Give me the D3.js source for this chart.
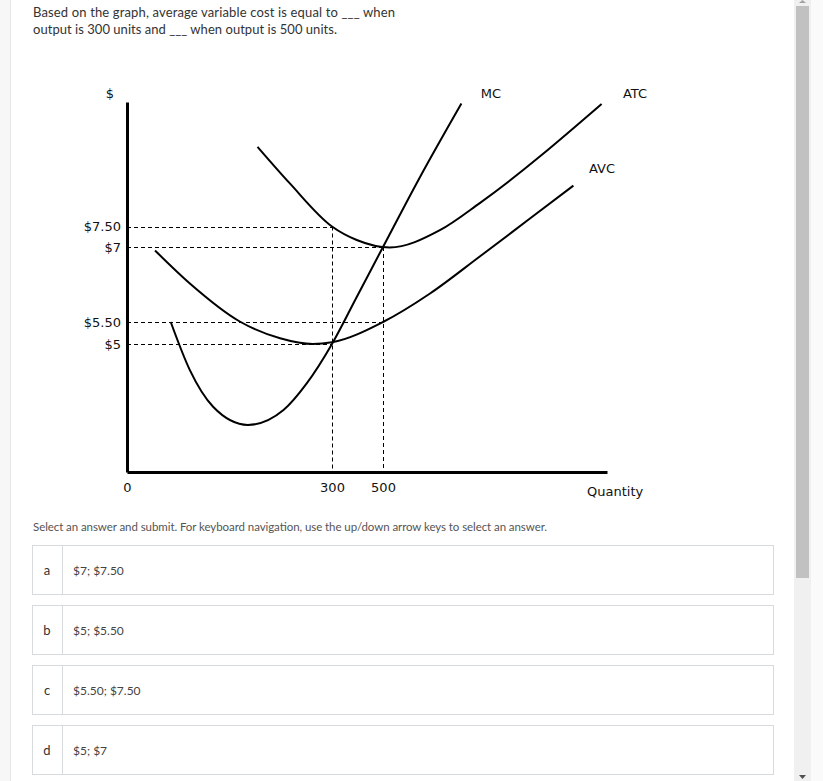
<!DOCTYPE html>
<html>
<head>
<meta charset="utf-8">
<script src="https://cdn.jsdelivr.net/npm/d3@7"></script>
<style>
  html, body { margin: 0; padding: 0; background: #fff; overflow: hidden; }
  svg { display: block; }
</style>
</head>
<body>
<div id="page"></div>
<script>
// ---------- data ----------
var questionLines = [
  "Based on the graph, average variable cost is equal to ___ when",
  "output is 300 units and ___ when output is 500 units."
];
var instruction = "Select an answer and submit. For keyboard navigation, use the up/down arrow keys to select an answer.";
var answerKeys = ["a", "b", "c", "d"];
var answerTexts = ["$7; $7.50", "$5; $5.50", "$5.50; $7.50", "$5; $7"];

// axis ticks (the original graph is schematic, so the scales are piecewise)
var qTicks = [0, 300, 500];
var qBreaks = [0, 300, 500, 1000];
var priceTicks = [5, 5.5, 7, 7.5];
var priceBreaks = [0, 5, 5.5, 7, 7.5, 10];
var priceLabels = ["$5", "$5.50", "$7", "$7.50"];

// curves: [quantity, $]
var mcData = [[64, 5.5], [92, 3.98], [126, 2.55], [177, 1.84], [229, 2.42], [263, 3.46],
  [300, 5.0], [397, 6.0], [500, 7.0], [583, 8.5], [675, 9.97]];
var avcData = [[41, 6.93], [92, 6.27], [165, 5.51], [224, 5.13], [272, 5.0], [300, 5.04],
  [500, 5.5], [605, 6.07], [716, 6.81], [828, 7.66], [925, 8.32]];
var atcData = [[191, 9.1], [238, 8.37], [300, 7.5], [397, 7.17], [515, 6.99], [627, 7.41],
  [716, 7.97], [988, 9.96]];

// dashed guides: [quantity, $]
var guides = [[300, 7.5], [500, 7], [500, 5.5], [300, 5]];
var dropLines = [[300, 7.5], [500, 7]];

// ---------- page ----------
var W = 823, H = 781;
var svg = d3.select("#page").append("svg")
  .attr("width", W)
  .attr("height", H);

// grey page edge on the left
svg.append("rect").attr("x", 0).attr("y", 0).attr("width", 10).attr("height", H).attr("fill", "#f7f7f7");
svg.append("line").attr("x1", 10.5).attr("x2", 10.5).attr("y1", 0).attr("y2", H)
  .attr("stroke", "#e6e6e6");

var uiFont = "Lato, 'Noto Sans', sans-serif";
var chartFont = "'DejaVu Sans', Verdana, sans-serif";

// question
svg.selectAll(".question")
  .data(questionLines)
  .enter().append("text")
  .attr("class", "question")
  .attr("x", 33)
  .attr("y", function (d, i) { return 17 + i * 17; })
  .attr("textLength", function (d, i) { return i == 0 ? 362 : 304; })
  .style("font-family", uiFont)
  .style("font-size", "13px")
  .style("fill", "#333")
  .text(function (d) { return d; });

/********** CHART ***********/
var margin = { top: 102, left: 127 },
  width = 480,
  height = 370;

var x = d3.scaleLinear().domain(qBreaks).range([0, 205, 256, 480]);
var y = d3.scaleLinear().domain(priceBreaks).range([height, 242, 220, 145, 124.5, 0]);

var g = svg.append("g")
  .attr("transform", "translate(" + margin.left + "," + margin.top + ")");

// dashed guides
guides.forEach(function (d) {
  g.append("line")
    .attr("x1", x(0)).attr("x2", x(d[0]))
    .attr("y1", Math.round(y(d[1])) + 0.5).attr("y2", Math.round(y(d[1])) + 0.5)
    .attr("stroke", "#000").attr("stroke-width", 1)
    .attr("stroke-dasharray", "4,3");
});
dropLines.forEach(function (d) {
  g.append("line")
    .attr("x1", Math.round(x(d[0])) + 0.5).attr("x2", Math.round(x(d[0])) + 0.5)
    .attr("y1", y(d[1])).attr("y2", height)
    .attr("stroke", "#000").attr("stroke-width", 1)
    .attr("stroke-dasharray", "4,3");
});

// curves
var line = d3.line()
  .x(function (d) { return x(d[0]); })
  .y(function (d) { return y(d[1]); })
  .curve(d3.curveMonotoneX);

[mcData, avcData, atcData].forEach(function (data) {
  g.append("path")
    .datum(data)
    .attr("d", line)
    .attr("fill", "none")
    .attr("stroke", "#000")
    .attr("stroke-width", 2);
});

// axes
var yAxis = d3.axisLeft(y)
  .tickValues(priceTicks)
  .tickSize(0)
  .tickSizeOuter(0)
  .tickPadding(6)
  .tickFormat(function (d, i) { return priceLabels[i]; });
var xAxis = d3.axisBottom(x)
  .tickValues(qTicks)
  .tickSize(0)
  .tickSizeOuter(0)
  .tickPadding(11)
  .tickFormat(function (d) { return d; });

g.append("g")
  .attr("class", "axis")
  .attr("transform", "translate(0," + height + ")")
  .call(xAxis);
g.append("g")
  .attr("class", "axis")
  .call(yAxis);

g.selectAll(".axis .domain")
  .attr("stroke", "#000")
  .attr("stroke-width", 3);
g.selectAll(".axis text")
  .style("font-family", chartFont)
  .style("font-size", "13px")
  .style("fill", "#111");

// axis titles and curve labels
var labels = [
  { t: "$", x: -17, y: -9, a: "middle" },
  { t: "Quantity", x: 460, y: 389, a: "start" },
  { t: "MC", x: 364, y: -9, a: "middle" },
  { t: "ATC", x: 508, y: -9, a: "middle" },
  { t: "AVC", x: 475, y: 66, a: "middle" }
];
g.selectAll(".lbl")
  .data(labels)
  .enter().append("text")
  .attr("class", "lbl")
  .attr("x", function (d) { return d.x; })
  .attr("y", function (d) { return d.y; })
  .attr("dy", "0.35em")
  .attr("text-anchor", function (d) { return d.a; })
  .style("font-family", chartFont)
  .style("font-size", "13px")
  .style("fill", "#111")
  .text(function (d) { return d.t; });
/**********************************/

// instruction
svg.append("text")
  .attr("x", 33)
  .attr("y", 531)
  .attr("textLength", 514)
  .style("font-family", uiFont)
  .style("font-size", "11.5px")
  .style("fill", "#555")
  .text(instruction);

// answers
var answers = svg.selectAll(".answer")
  .data(answerKeys)
  .enter().append("g")
  .attr("class", "answer")
  .attr("transform", function (d, i) { return "translate(32," + (545 + i * 60) + ")"; });

answers.append("rect")
  .attr("x", 0.5).attr("y", 0.5)
  .attr("width", 741).attr("height", 49)
  .attr("fill", "#fff")
  .attr("stroke", "#d8dbde");
answers.append("line")
  .attr("x1", 30.5).attr("x2", 30.5)
  .attr("y1", 0.5).attr("y2", 49.5)
  .attr("stroke", "#d8dbde");
answers.append("text")
  .attr("x", 15)
  .attr("y", 30)
  .attr("text-anchor", "middle")
  .style("font-family", uiFont)
  .style("font-size", "13px")
  .style("fill", "#333")
  .text(function (d) { return d; });
answers.append("text")
  .attr("x", 41)
  .attr("y", 30)
  .style("font-family", uiFont)
  .style("font-size", "12px")
  .style("fill", "#444")
  .text(function (d, i) { return answerTexts[i]; });

// scrollbar
svg.append("rect").attr("x", 794).attr("y", 0).attr("width", 17).attr("height", H).attr("fill", "#f0f0f0");
svg.append("rect").attr("x", 811).attr("y", 0).attr("width", 12).attr("height", H).attr("fill", "#fafafa");
svg.append("rect").attr("x", 796).attr("y", 6).attr("width", 13).attr("height", 572).attr("fill", "#c1c1c1");
svg.append("path").attr("d", "M799,3 L802.5,0 L806,3 Z").attr("fill", "#a3a3a3");
svg.append("path").attr("d", "M799,775 L806,775 L802.5,779 Z").attr("fill", "#505050");
</script>
</body>
</html>
